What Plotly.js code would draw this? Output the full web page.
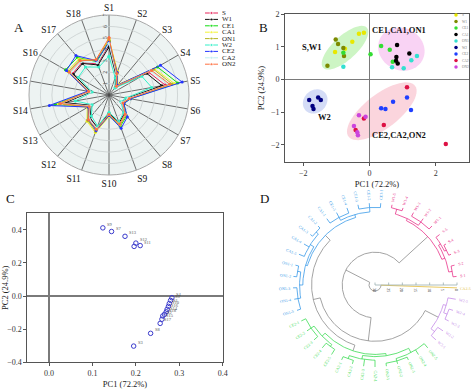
<!DOCTYPE html>
<html><head><meta charset="utf-8">
<script src="https://cdn.plot.ly/plotly-3.0.1.min.js"></script>
<style>html,body{margin:0;padding:0;background:#fff}#chart{width:474px;height:389px}</style>
</head><body><div id="chart"></div>
<script>
const SERIF = 'Liberation Serif, Times New Roman, serif';

// ---------- Panel A data (radar) ----------
const attributes = ['S1','S2','S3','S4','S5','S6','S7','S8','S9','S10','S11','S12','S13','S14','S15','S16','S17','S18'];
const radarNames = ['S','W1','CE1','CA1','ON1','W2','CE2','CA2','ON2'];
const radar_S   = [4.4,1.9,1.0,4.0,5.0,1.7,1.3,2.2,2.6,1.7,3.1,2.6,1.9,4.0,1.7,3.7,3.7,2.9];
const radar_W1  = [4.2,1.8,0.9,3.8,4.7,1.6,1.3,2.1,2.6,1.6,3.0,2.6,1.8,3.9,1.6,3.6,3.6,2.8];
const radar_CE1 = [4.7,2.0,1.1,4.9,6.1,1.9,1.5,2.4,2.9,1.8,3.2,2.9,2.0,4.8,1.8,4.4,4.3,3.1];
const radar_CA1 = [4.9,2.2,1.2,4.6,5.8,1.8,1.4,2.3,2.8,1.9,3.5,3.0,2.2,4.5,1.9,4.2,4.1,3.3];
const radar_ON1 = [4.8,2.1,1.1,4.5,5.6,1.8,1.4,2.3,2.8,1.8,3.4,2.9,2.1,4.4,1.8,4.1,4.0,3.2];
const radar_W2  = [3.4,1.6,0.8,3.3,3.8,1.5,1.2,2.0,2.5,1.5,2.9,2.4,1.7,3.0,1.5,3.1,3.2,2.6];
const radar_CE2 = [4.6,2.1,1.1,5.2,6.5,1.9,1.5,2.5,3.1,1.8,3.3,2.8,2.1,5.3,1.9,4.3,4.5,3.2];
const radar_CA2 = [4.5,1.9,1.0,4.2,5.3,1.7,1.3,2.2,2.7,1.7,3.1,2.7,1.9,4.2,1.7,3.9,3.8,3.0];
const radar_ON2 = [5.0,2.0,1.0,4.3,5.4,1.8,1.4,2.2,2.7,1.7,3.2,2.8,2.0,4.3,1.8,4.0,3.9,3.3];
const radarValues = [radar_S,radar_W1,radar_CE1,radar_CA1,radar_ON1,radar_W2,radar_CE2,radar_CA2,radar_ON2];
const radarColors = ['#e8245a','#111111','#11dd11','#f4f433','#b5b525','#33f0c8','#2233ff','#bdeff0','#ff7040'];

// ---------- Panel B data (PCA scores) ----------
const pcaGroups = ['S','W1','CE1','CA1','ON1','W2','CE2','CA2','ON2'];
const pc1_S   = [-1.04,-0.74,-0.52,-0.32,-0.17];
const pc2_S   = [0.84,0.94,1.15,1.40,1.43];
const pc1_W1  = [-1.02,-0.95,-0.79,-0.77,-1.27];
const pc2_W1  = [1.22,1.08,0.96,0.72,0.42];
const pc1_CE1 = [-0.79,0.03,0.35,0.61,0.70];
const pc2_CE1 = [0.82,0.77,1.02,0.91,0.54];
const pc1_CA1 = [0.83,0.81,0.80,0.85,1.20];
const pc2_CA1 = [1.05,0.69,0.57,0.49,0.79];
const pc1_ON1 = [-0.79,0.68,1.03,1.26,1.43];
const pc2_ON1 = [0.39,0.37,0.34,0.59,0.72];
const pc1_W2  = [-1.82,-1.72,-1.69,-1.55,-1.47];
const pc2_W2  = [-0.63,-0.81,-0.90,-0.55,-0.63];
const pc1_CE2 = [0.35,0.48,0.71,1.13,1.25];
const pc2_CE2 = [-0.88,-0.90,-0.68,-0.55,-0.93];
const pc1_CA2 = [1.13,0.43,-0.17,-0.42,2.30];
const pc2_CA2 = [-0.24,-1.39,-1.19,-1.54,-1.97];
const pc1_ON2 = [-0.32,-0.12,-0.47,-0.37,-0.35];
const pc2_ON2 = [-1.09,-1.14,-1.42,-1.61,-1.70];
const pcaX = [pc1_S,pc1_W1,pc1_CE1,pc1_CA1,pc1_ON1,pc1_W2,pc1_CE2,pc1_CA2,pc1_ON2];
const pcaY = [pc2_S,pc2_W1,pc2_CE1,pc2_CA1,pc2_ON1,pc2_W2,pc2_CE2,pc2_CA2,pc2_ON2];
const pcaColors = ['#e8e800','#7c8a00','#33dd33','#000000','#33e0d0','#000080','#1f3fff','#dd1144','#cc44dd'];

// hand-drawn group highlight ellipses (annotations)
const clusterNames = ['S,W1','CE1,CA1,ON1','W2','CE2,CA2,ON2'];
const clusterCx = [-0.74,0.96,-1.64,0.37];
const clusterCy = [0.97,0.93,-0.67,-0.97];
const clusterA  = [0.90,0.72,0.40,1.27];
const clusterB  = [0.36,0.64,0.34,0.52];
const clusterRot= [43,-30,45,38];
const clusterLabX = [-1.75,0.88,-1.37,0.88];
const clusterLabY = [1.0,1.52,-1.16,-1.68];
const clusterFill = ['#cdf5c4','#f9d3f4','#d4dcf6','#fbd5dd'];

// ---------- Panel C data (loadings) ----------
const loadNames = ['S9','S7','S13','S12','S6','S11','S4','S5','S1','S10','S16','S14','S18','S2','S15','S17','S8','S3'];
const loadPC1 = [0.124,0.144,0.175,0.200,0.196,0.210,0.283,0.280,0.277,0.275,0.272,0.270,0.266,0.262,0.260,0.256,0.234,0.195];
const loadPC2 = [0.412,0.390,0.361,0.320,0.300,0.305,-0.010,-0.026,-0.045,-0.062,-0.080,-0.095,-0.110,-0.120,-0.140,-0.165,-0.225,-0.302];
const loadShowLabel = [1,1,1,1,0,1,1,1,1,1,1,1,1,1,1,1,1,1];

// ---------- Panel D data (dendrogram) ----------
const pinkTree = {h:3.8, color:'#e8338a', c:[
  {h:2.6, c:[{h:1.3, c:['S-1','S-2']}, {h:1.7, c:[{h:0.9, c:['S-3','S-4']}, 'S-5']}]},
  {h:3.0, c:[{h:1.5, c:['W1-1','W1-2','W1-3']}, {h:1.1, c:['W1-4','W1-5']}]}]};
const blueTree = {h:4.3, color:'#3a9be8', c:[
  {h:3.2, c:[{h:1.6, c:['CE1-1','CE1-2','CE1-3']}, {h:2.0, c:['CE1-4','CE1-5','CA1-1']}]},
  {h:3.6, c:[{h:2.1, c:[{h:1.0, c:['CA1-2','CA1-3']}, 'CA1-4','CA1-5']},
             {h:2.4, c:[{h:1.2, c:['ON1-1','ON1-2']}, {h:1.4, c:['ON1-3','ON1-4','ON1-5']}]}]}]};
const greenTree = {h:4.6, color:'#3ddc55', c:[
  {h:3.1, c:[{h:1.8, c:['CE2-1','CE2-2','CE2-3']}, {h:2.2, c:['CE2-4','CE2-5']}]},
  {h:3.8, c:[{h:2.5, c:[{h:1.3, c:['CA2-1','CA2-2']}, 'CA2-3','CA2-4']},
             {h:2.0, c:[{h:1.1, c:['ON2-1','ON2-2','ON2-3']}, 'ON2-4','ON2-5']}]}]};
const purpleTree = {h:4.0, color:'#c58be8', c:[
  {h:2.3, c:['W2-1','W2-2']}, {h:2.9, c:[{h:1.5, c:['W2-3','W2-4']}, 'W2-5']}]};
const dendroTree = {h:27.8, c:[
  {h:18.0, c:[pinkTree, {h:9.4, c:[{h:6.8, c:[blueTree, greenTree]}, purpleTree]}]},
  {leaf:'CA2-5', color:'#e3bb3a'}]};
const scaleTicks = [30,25,20,15,10,5,0];

// ================= build =================
const data = [];
const annotations = [];
const shapes = [];

// Panel A
radarNames.forEach((n,i)=>{
  const r = radarValues[i];
  data.push({type:'scatterpolar', subplot:'polar', r:r.concat([r[0]]), theta:attributes.concat([attributes[0]]),
    mode:'lines+markers', line:{color:radarColors[i], width:1}, marker:{size:3, color:radarColors[i]},
    showlegend:false, hoverinfo:'skip'});
});
// legend A
radarNames.forEach((n,i)=>{
  const y = 13 + 6.4*i;
  data.push({type:'scatter', xaxis:'x5', yaxis:'y5', x:[205,211.5,218], y:[y,y,y], mode:'lines+markers',
    line:{color:radarColors[i], width:1}, marker:{size:[0,3,0], color:radarColors[i]}, showlegend:false, hoverinfo:'skip'});
  annotations.push({xref:'x5', yref:'y5', x:220, y:y, text:n, showarrow:false, xanchor:'left', yanchor:'middle',
    font:{family:SERIF, size:7, color:'#222'}});
});

// Panel B
function ellipsePath(cx,cy,a,b,deg){
  const f = deg*Math.PI/180; let p='';
  for(let t=0;t<=360;t+=6){
    const u=t*Math.PI/180;
    const x = cx + a*Math.cos(u)*Math.cos(f) - b*Math.sin(u)*Math.sin(f);
    const y = cy + a*Math.cos(u)*Math.sin(f) + b*Math.sin(u)*Math.cos(f);
    p += (t===0?'M ':' L ') + x.toFixed(4) + ',' + y.toFixed(4);
  }
  return p + ' Z';
}
clusterNames.forEach((n,i)=>{
  shapes.push({type:'path', xref:'x2', yref:'y2', layer:'below',
    path:ellipsePath(clusterCx[i],clusterCy[i],clusterA[i],clusterB[i],clusterRot[i]),
    fillcolor:clusterFill[i], line:{width:0}});
  annotations.push({xref:'x2', yref:'y2', x:clusterLabX[i], y:clusterLabY[i], text:'<b>'+n+'</b>', showarrow:false,
    font:{family:SERIF, size:8.5, color:'#111'}});
});
pcaGroups.forEach((g,i)=>{
  data.push({type:'scatter', xaxis:'x2', yaxis:'y2', x:pcaX[i], y:pcaY[i], mode:'markers',
    marker:{size:4.5, color:pcaColors[i]}, showlegend:false, hoverinfo:'skip'});
  const y = 15 + 6.5*i;
  data.push({type:'scatter', xaxis:'x6', yaxis:'y6', x:[456], y:[y], mode:'markers',
    marker:{size:3.5, color:pcaColors[i]}, showlegend:false, hoverinfo:'skip'});
  annotations.push({xref:'x6', yref:'y6', x:460, y:y, text:g, showarrow:false, xanchor:'left', yanchor:'middle',
    font:{family:SERIF, size:3.5, color:'#777'}});
});

// Panel C
data.push({type:'scatter', xaxis:'x3', yaxis:'y3', x:loadPC1, y:loadPC2, mode:'markers',
  marker:{size:4.5, color:'rgba(0,0,0,0)', line:{color:'#3a3acc', width:1}}, showlegend:false, hoverinfo:'skip'});
loadNames.forEach((n,i)=>{
  if(!loadShowLabel[i]) return;
  annotations.push({xref:'x3', yref:'y3', x:loadPC1[i], y:loadPC2[i], text:n, showarrow:false, xanchor:'left', yanchor:'bottom',
    xshift:2, yshift:-1, font:{family:SERIF, size:4.5, color:'#555'}});
});

// Panel D
const R = 82, H = 30, leafStart = 6, leafStep = 8;
const rad = h => (H - h) * R / H;
let leafK = 0;
function lay(node){
  if (typeof node === 'string' || node.leaf){
    const nm = typeof node === 'string' ? node : node.leaf;
    return {leaf:true, name:nm, a: leafStart + leafStep*(leafK++), h:0, color: node.color};
  }
  const kids = node.c.map(lay);
  return {leaf:false, a:(kids[0].a + kids[kids.length-1].a)/2, h:node.h, kids, color:node.color};
}
const root = lay(dendroTree);
const segs = {};
function addSeg(color, xs, ys){
  if(!segs[color]) segs[color] = {x:[], y:[]};
  segs[color].x.push(...xs, null); segs[color].y.push(...ys, null);
}
const P = (r,a)=>[r*Math.cos(a*Math.PI/180), r*Math.sin(a*Math.PI/180)];
const GRAY = '#8c8c8c';
const leafLabels = [];
function draw(node, inherited){
  const col = node.color || inherited;
  const rn = rad(node.h);
  const angs = node.kids.map(k=>k.a);
  const a0 = Math.min(...angs), a1 = Math.max(...angs);
  const xs=[], ys=[];
  for(let a=a0; a<a1; a+=1){ const p=P(rn,a); xs.push(p[0]); ys.push(p[1]); }
  const pe=P(rn,a1); xs.push(pe[0]); ys.push(pe[1]);
  addSeg(col, xs, ys);
  node.kids.forEach(k=>{
    const kc = (k.leaf && k.color) ? k.color : col;
    const p0=P(rn,k.a), p1=P(rad(k.h),k.a);
    addSeg(kc, [p0[0],p1[0]], [p0[1],p1[1]]);
    if(k.leaf) leafLabels.push({name:k.name, a:k.a, color:kc});
    else draw(k, col);
  });
}
draw(root, GRAY);
Object.keys(segs).forEach(c=>{
  data.push({type:'scatter', xaxis:'x4', yaxis:'y4', x:segs[c].x, y:segs[c].y, mode:'lines',
    line:{color:c, width:0.8}, showlegend:false, hoverinfo:'skip'});
});
leafLabels.forEach(l=>{
  const half = l.name.length*1.1;
  const p = P(R + 3 + half, l.a);
  let ang = l.a % 360; if (ang<0) ang+=360;
  const ta = (ang>90 && ang<270) ? 180-ang : -ang;
  annotations.push({xref:'x4', yref:'y4', x:p[0], y:p[1], text:l.name, showarrow:false, textangle:ta,
    font:{family:SERIF, size:4, color:l.color}});
});
// scale bar
{
  const xs=[], ys=[];
  xs.push(rad(H), rad(0), null); ys.push(0, 0, null);
  scaleTicks.forEach(t=>{ xs.push(rad(t), rad(t), null); ys.push(0, 2.5, null);
    annotations.push({xref:'x4', yref:'y4', x:rad(t), y:-5, text:String(t), showarrow:false, textangle:90,
      font:{family:SERIF, size:4, color:'#444'}});
  });
  data.push({type:'scatter', xaxis:'x4', yaxis:'y4', x:xs, y:ys, mode:'lines', line:{color:'#9aaeb0', width:0.8},
    showlegend:false, hoverinfo:'skip'});
}

// panel letters
[['A',12,18],['B',263,18],['C',4,199],['D',264,199]].forEach(([t,x,y])=>{
  annotations.push({xref:'paper', yref:'paper', x:x/474, y:1-y/389, text:t, showarrow:false,
    font:{family:SERIF, size:13, color:'#111'}});
});

const px = v=>v/474, py = v=>1-v/389;
const axFont = {family:SERIF, size:8, color:'#333'};
const frame = {automargin:false, showline:true, mirror:true, linecolor:'#555', linewidth:1, showgrid:false,
  zeroline:true, zerolinecolor:'#7a7a7a', zerolinewidth:1.4, ticks:'outside', ticklen:3, tickcolor:'#555', tickfont:axFont};
const hidden = {automargin:false, visible:false, showgrid:false, zeroline:false, fixedrange:true};

const layout = {
  width:474, height:389, autosize:false, margin:{l:0,r:0,t:0,b:0,pad:0},
  paper_bgcolor:'#ffffff', plot_bgcolor:'rgba(0,0,0,0)', showlegend:false,
  font:{family:SERIF},
  polar:{
    domain:{x:[px(29),px(189)], y:[py(175),py(15)]},
    bgcolor:'#edf3f2',
    angularaxis:{type:'category', rotation:90, direction:'clockwise', categoryarray:attributes,
      tickfont:{family:SERIF, size:9.5, color:'#111'}, ticks:'', showline:true, linecolor:'#a8a8a8', linewidth:1,
      gridcolor:'#4a4a4a', gridwidth:0.8},
    radialaxis:{range:[0,7], tickvals:[1,2,3,4,5,6,7], angle:90, side:'counterclockwise', showline:false,
      ticks:'', tickfont:{family:SERIF, size:6, color:'#555'}, gridcolor:'#c9cfcf', gridwidth:0.8}
  },
  xaxis2:Object.assign({}, frame, {domain:[px(285),px(469)], anchor:'y2', range:[-2.55,3.0], tickvals:[-2,0,2],
    title:{text:'PC1 (72.2%)', font:{family:SERIF,size:8.5,color:'#222'}, standoff:4}}),
  yaxis2:Object.assign({}, frame, {domain:[py(162),py(14)], anchor:'x2', range:[-2.52,2.0], tickvals:[-2,-1,0,1,2],
    title:{text:'PC2 (24.9%)', font:{family:SERIF,size:8.5,color:'#222'}, standoff:4}}),
  xaxis3:Object.assign({}, frame, {domain:[px(27.3),px(222.7)], anchor:'y3', range:[-0.05,0.4], tickvals:[0,0.1,0.2,0.3,0.4], tickformat:'.1f',
    title:{text:'PC1 (72.2%)', font:{family:SERIF,size:8.5,color:'#222'}, standoff:4}}),
  yaxis3:Object.assign({}, frame, {domain:[py(362.3),py(213.3)], anchor:'x3', range:[-0.4,0.5], tickvals:[-0.4,-0.2,0,0.2,0.4], tickformat:'.1f',
    title:{text:'PC2 (24.9%)', font:{family:SERIF,size:8.5,color:'#222'}, standoff:3}}),
  xaxis4:Object.assign({}, hidden, {domain:[px(270),1], anchor:'y4', range:[-105,99]}),
  yaxis4:Object.assign({}, hidden, {domain:[0,py(190)], anchor:'x4', range:[-104,95]}),
  xaxis5:Object.assign({}, hidden, {domain:[px(200),px(240)], anchor:'y5', range:[200,240]}),
  yaxis5:Object.assign({}, hidden, {domain:[py(70),py(8)], anchor:'x5', range:[70,8]}),
  xaxis6:Object.assign({}, hidden, {domain:[px(450),1], anchor:'y6', range:[450,474]}),
  yaxis6:Object.assign({}, hidden, {domain:[py(72),py(10)], anchor:'x6', range:[72,10]}),
  shapes, annotations
};
Plotly.newPlot('chart', data, layout, {staticPlot:true, displayModeBar:false});
</script></body></html>
